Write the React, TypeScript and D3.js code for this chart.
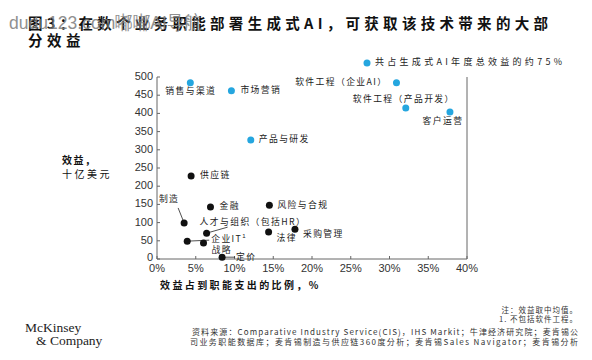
import React from "react";
import * as d3 from "d3";

const names = [
  "销售与渠道", "市场营销", "软件工程（企业AI）", "软件工程（产品开发）", "客户运营",
  "产品与研发", "供应链", "金融", "风险与合规", "制造",
  "人才与组织（包括HR）", "企业IT¹", "战略", "法律", "采购管理", "定价",
];
const shareOfSpend = [4.3, 9.6, 30.9, 32.1, 37.8, 12.1, 4.4, 6.9, 14.5, 3.5, 6.4, 3.9, 6.0, 14.4, 17.8, 8.4];
const impact = [484, 462, 484, 415, 404, 327, 228, 143, 148, 99, 71, 49, 44, 74, 82, 5];
const highlighted = [true, true, true, true, true, true, false, false, false, false, false, false, false, false, false, false];

const xTicks = [0, 5, 10, 15, 20, 25, 30, 35, 40];
const yTicks = [0, 50, 100, 150, 200, 250, 300, 350, 400, 450, 500];

const titleLine1 = "图3：在数个业务职能部署生成式AI，可获取该技术带来的大部";
const titleLine2 = "分效益";
const watermark = "dudu123.com嘟嘟AI导航";
const legendText = "共占生成式AI年度总效益的约75%";
const yTitle1 = "效益，";
const yTitle2 = "十亿美元";
const xTitle = "效益占到职能支出的比例，%";
const note1 = "注：效益取中均值。";
const note2 = "1. 不包括软件工程。";
const source1 = "资料来源：Comparative Industry Service(CIS)，IHS Markit；牛津经济研究院；麦肯锡公";
const source2 = "司业务职能数据库；麦肯锡制造与供应链360度分析；麦肯锡Sales Navigator；麦肯锡分析";

// label layout: [dx, dy, anchor, leader?]
type Lay = { dx: number; dy: number; anchor: string; lead?: [number, number, number, number] };
const layout: Lay[] = [
  { dx: -25, dy: 9, anchor: "start" },
  { dx: 9, dy: 0, anchor: "start" },
  { dx: -9, dy: 0, anchor: "end" },
  { dx: -2, dy: -8, anchor: "middle" },
  { dx: -7, dy: 10, anchor: "middle" },
  { dx: 8, dy: 0, anchor: "start" },
  { dx: 9, dy: 0, anchor: "start" },
  { dx: 9, dy: 0, anchor: "start" },
  { dx: 8, dy: 0, anchor: "start" },
  { dx: -15, dy: -23, anchor: "middle", lead: [-6, -15, 0, 0] },
  { dx: -7, dy: -11, anchor: "start", lead: [0, 0, 21, -6] },
  { dx: 24, dy: -2, anchor: "start", lead: [0, 0, 22, -1] },
  { dx: 8, dy: 7.5, anchor: "start" },
  { dx: 8, dy: 7, anchor: "start" },
  { dx: 8, dy: 5, anchor: "start" },
  { dx: 14, dy: 0, anchor: "start", lead: [0, 0, 13, 0] },
];

const CJK = "'Noto Sans CJK SC', 'Noto Sans', sans-serif";
const SANS = "'Liberation Sans', Arial, sans-serif";
const BLUE = "#25a6df";

export default function App() {
  const W = 592, H = 360;
  const x = d3.scaleLinear().domain([0, 40]).range([157, 467]);
  const y = d3.scaleLinear().domain([0, 500]).range([259, 77]);

  return (
    <svg width={W} height={H} style={{ position: "absolute", left: 0, top: 0, background: "#fff" }}>
      <rect width={W} height={H} fill="#fff" />
      {/* title */}
      <text x={28} y={29} fontFamily={CJK} fontWeight={700} fontSize={14.5} fill="#111"
        textLength={520} lengthAdjust="spacing">{titleLine1}</text>
      <text x={28} y={46} fontFamily={CJK} fontWeight={700} fontSize={14.5} fill="#111"
        letterSpacing={4.5}>{titleLine2}</text>
      <text x={9} y={29} fontFamily={SANS} fontSize={19} fill="#7d7d7d" opacity={0.85}
        textLength={193} lengthAdjust="spacingAndGlyphs">{watermark}</text>

      {/* legend */}
      <circle cx={367} cy={63} r={3.5} fill={BLUE} />
      <text x={375} y={63} dominantBaseline="middle" fontFamily={CJK} fontSize={9} fill="#222"
        textLength={187} lengthAdjust="spacing">{legendText}</text>

      {/* axes */}
      <line x1={x(0)} x2={x(0)} y1={y(500)} y2={y(0)} stroke="#666" strokeWidth={1} />
      <line x1={x(40)} x2={x(40)} y1={y(500)} y2={y(0)} stroke="#666" strokeWidth={1} />
      <line x1={x(0)} x2={x(40)} y1={y(0)} y2={y(0)} stroke="#666" strokeWidth={1} />
      {yTicks.map((t) => (
        <g key={"y" + t}>
          <line x1={x(0)} x2={x(0) + 3} y1={y(t)} y2={y(t)} stroke="#666" />
          <text x={x(0) - 4} y={y(t) - (t === 0 ? 1 : 0)} dominantBaseline="middle" textAnchor="end"
            fontFamily={SANS} fontSize={11} fill="#333">{t}</text>
        </g>
      ))}
      {xTicks.map((t) => (
        <g key={"x" + t}>
          <line x1={x(t)} x2={x(t)} y1={y(0)} y2={y(0) - 3} stroke="#666" />
          <text x={x(t)} y={y(0) + 13} textAnchor="middle"
            fontFamily={SANS} fontSize={11} fill="#333">{t + "%"}</text>
        </g>
      ))}

      {/* axis titles */}
      <text x={62} y={164} fontFamily={CJK} fontWeight={700} fontSize={10} fill="#111" letterSpacing={1.5}>{yTitle1}</text>
      <text x={62} y={178} fontFamily={CJK} fontSize={10} fill="#111" letterSpacing={2.5}>{yTitle2}</text>
      <text x={160} y={289} fontFamily={CJK} fontWeight={700} fontSize={10} fill="#111" letterSpacing={2.4}>{xTitle}</text>

      {/* leaders */}
      {names.map((n, i) => {
        const l = layout[i];
        if (!l.lead) return null;
        const cx = x(shareOfSpend[i]), cy = y(impact[i]);
        return <line key={"l" + i} x1={cx + l.lead[0]} y1={cy + l.lead[1]} x2={cx + l.lead[2]} y2={cy + l.lead[3]}
          stroke="#222" strokeWidth={0.8} />;
      })}
      {/* points */}
      {names.map((n, i) => (
        <circle key={"c" + i} cx={x(shareOfSpend[i])} cy={y(impact[i])} r={3.5}
          fill={highlighted[i] ? BLUE : "#111"} />
      ))}
      {/* labels */}
      {names.map((n, i) => {
        const l = layout[i];
        const sup = n.endsWith("¹");
        const base = sup ? n.slice(0, -1) : n;
        return (
          <text key={"t" + i} x={x(shareOfSpend[i]) + l.dx} y={y(impact[i]) + l.dy}
            dominantBaseline="middle" textAnchor={l.anchor} fontFamily={CJK} fontSize={8.8}
            fill="#222" letterSpacing={1.4}>
            {base}
            {sup && <tspan fontSize={6} dy={-3} fontFamily={SANS}>1</tspan>}
          </text>
        );
      })}

      {/* footer */}
      <text x={578} y={313} textAnchor="end" fontFamily={CJK} fontSize={7.5} fill="#333" letterSpacing={1}>{note1}</text>
      <text x={578} y={322} textAnchor="end" fontFamily={CJK} fontSize={7.5} fill="#333" letterSpacing={1}>{note2}</text>
      <text x={192} y={335} fontFamily={CJK} fontSize={8} fill="#333" textLength={386} lengthAdjust="spacing">{source1}</text>
      <text x={190} y={345} fontFamily={CJK} fontSize={8} fill="#333" textLength={388} lengthAdjust="spacing">{source2}</text>
      <text x={25} y={332} fontFamily="'Liberation Serif', 'DejaVu Serif', serif" fontSize={13.5} fill="#222">McKinsey</text>
      <text x={36} y={345} fontFamily="'Liberation Serif', 'DejaVu Serif', serif" fontSize={13.5} fill="#222">&amp; Company</text>
    </svg>
  );
}
